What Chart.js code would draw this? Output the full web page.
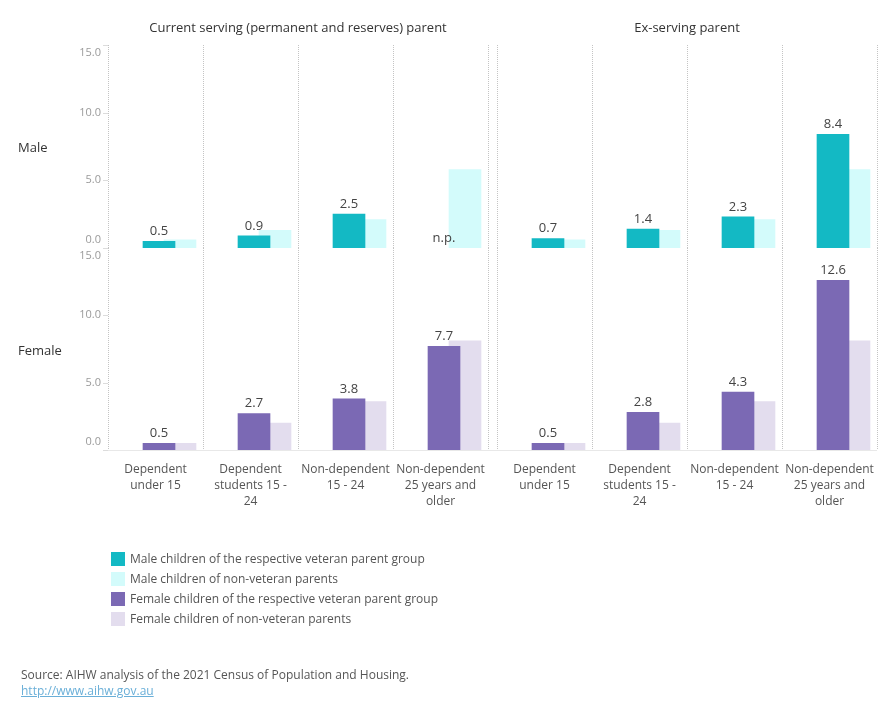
<!DOCTYPE html>
<html><head><meta charset="utf-8">
<script src="https://cdn.jsdelivr.net/npm/chart.js@4.4.1/dist/chart.umd.min.js"></script>
<style>
html,body{margin:0;padding:0;background:#fff;}
body{width:890px;height:720px;position:relative;overflow:hidden;font-family:"Open Sans",sans-serif;}
canvas{position:absolute;left:0;top:0;}
.t{position:absolute;white-space:nowrap;line-height:16px;}
.sw{position:absolute;width:14px;height:14px;}
</style></head><body>
<canvas id="c0" width="890" height="720"></canvas>
<canvas id="c1" width="890" height="720"></canvas>
<canvas id="c2" width="890" height="720"></canvas>
<canvas id="c3" width="890" height="720"></canvas>
<div id="txt"></div>
<script>
// ---------- data ----------
const categories = [["Dependent","under 15"],["Dependent","students 15 -","24"],["Non-dependent","15 - 24"],["Non-dependent","25 years and","older"]];
const parentGroups = ["Current serving (permanent and reserves) parent","Ex-serving parent"];
const sexes = ["Male","Female"];
const maleCurrentVeteran   = [0.5, 0.9, 2.5, null];   // null = n.p.
const maleExVeteran        = [0.7, 1.4, 2.3, 8.4];
const maleNonVeteran       = [0.6, 1.3, 2.1, 5.8];
const femaleCurrentVeteran = [0.5, 2.7, 3.8, 7.7];
const femaleExVeteran      = [0.5, 2.8, 4.3, 12.6];
const femaleNonVeteran     = [0.5, 2.0, 3.6, 8.1];
const yTicks = [0, 5, 10, 15];
const seriesNames = ["Male children of the respective veteran parent group","Male children of non-veteran parents","Female children of the respective veteran parent group","Female children of non-veteran parents"];
const sourceText = "Source: AIHW analysis of the 2021 Census of Population and Housing.";
const sourceLink = "http://www.aihw.gov.au";

// ---------- styling / layout ----------
const colors = ["#13B9C4","#D3FBFB","#7B69B4","#E3DDEE"];
const DARK_POS = 51/95, LIGHT_POS = 72/95;
const FONT = '"Open Sans", sans-serif';
const cols = [{l:108,r:488},{l:497,r:877}];
const rows = [{t:45,b:248},{t:248,b:450}];
const vetData = [[maleCurrentVeteran, maleExVeteran],[femaleCurrentVeteran, femaleExVeteran]];
const nonData = [maleNonVeteran, femaleNonVeteran];

function makePlugin(sex, grp){
  return {
    id:'panel'+sex+grp,
    beforeDatasetsDraw(chart){
      const {ctx, chartArea:a} = chart; const xs = chart.scales.x;
      ctx.save();
      if (sex===1){
        ctx.strokeStyle='#e8e8e8'; ctx.lineWidth=1;
        ctx.beginPath(); ctx.moveTo(a.left-(grp===0?5:9), a.bottom+0.5); ctx.lineTo(a.right, a.bottom+0.5); ctx.stroke();
      }
      ctx.strokeStyle='#c4c4c4'; ctx.lineWidth=1; ctx.setLineDash([1,1]);
      for (let i=0;i<=categories.length;i++){
        const px = Math.round(xs.getPixelForValue(i))+0.5;
        ctx.beginPath(); ctx.moveTo(px, a.top); ctx.lineTo(px, a.bottom); ctx.stroke();
      }
      ctx.restore();
    },
    afterDatasetsDraw(chart){
      const {ctx, chartArea:a} = chart; const xs = chart.scales.x, ys = chart.scales.y;
      ctx.save();
      const meta = chart.getDatasetMeta(0);
      const vals = chart.data.datasets[0].data;
      ctx.font = '13px '+FONT; ctx.fillStyle='#444'; ctx.textAlign='center'; ctx.textBaseline='middle';
      meta.data.forEach((bar,i)=>{
        const v = vals[i].y;
        const y = v==null ? ys.getPixelForValue(0) : bar.y;
        ctx.fillText(v==null ? 'n.p.' : v.toFixed(1), bar.x, y-10);
      });
      if (grp===0){
        ctx.font='11px '+FONT; ctx.fillStyle='#9a9a9a'; ctx.textAlign='right';
        ctx.strokeStyle='#dcdcdc';
        yTicks.forEach(v=>{
          const py = ys.getPixelForValue(v);
          ctx.beginPath(); ctx.moveTo(a.left-5, Math.round(py)+0.5); ctx.lineTo(a.left, Math.round(py)+0.5); ctx.stroke();
          const ly = Math.min(Math.max(py, a.top+8), a.bottom-8);
          ctx.fillText(v.toFixed(1), a.left-7, ly);
        });
      }
      if (sex===1){
        ctx.font='12px '+FONT; ctx.fillStyle='#555'; ctx.textAlign='center';
        categories.forEach((lines,i)=>{
          const cx = xs.getPixelForValue(i+0.5);
          lines.forEach((s,k)=>ctx.fillText(s, cx, a.bottom+20+k*16));
        });
      }
      ctx.restore();
    }
  };
}

let ci = 0;
for (let sex=0; sex<2; sex++){
  for (let grp=0; grp<2; grp++){
    const c = cols[grp], r = rows[sex];
    new Chart(document.getElementById('c'+(ci++)), {
      type:'bar',
      data:{datasets:[
        {label:seriesNames[sex*2], data:vetData[sex][grp].map((v,i)=>({x:i+DARK_POS,y:v})),
         backgroundColor:colors[sex*2], grouped:false, barThickness:32, borderWidth:0},
        {label:seriesNames[sex*2+1], data:nonData[sex].map((v,i)=>({x:i+LIGHT_POS,y:v})),
         backgroundColor:colors[sex*2+1], grouped:false, barThickness:32, borderWidth:0}
      ]},
      options:{
        responsive:false, animation:false, devicePixelRatio:1,
        layout:{padding:{left:c.l, right:890-c.r, top:r.t, bottom:720-r.b}},
        plugins:{legend:{display:false}, tooltip:{enabled:false}},
        scales:{
          x:{type:'linear', min:0, max:categories.length, offset:false, display:false},
          y:{type:'linear', min:0, max:15, display:false}
        }
      },
      plugins:[makePlugin(sex,grp)]
    });
  }
}

// ---------- HTML text ----------
const txt = document.getElementById('txt');
function addText(s, left, cy, size, color, extra){
  const d = document.createElement('div'); d.className='t'; d.textContent=s;
  d.style.left=left+'px'; d.style.top=(cy-8)+'px'; d.style.fontSize=size+'px'; d.style.color=color;
  if (extra) Object.assign(d.style, extra);
  txt.appendChild(d); return d;
}
parentGroups.forEach((g,i)=>{
  const d = addText(g, 0, 27, 13, '#333');
  const cx = (cols[i].l+cols[i].r)/2;
  d.style.left = cx+'px'; d.style.transform='translateX(-50%)';
});
addText(sexes[0], 18, 147, 13, '#333');
addText(sexes[1], 18, 350, 13, '#333');
seriesNames.forEach((s,k)=>{
  const sw = document.createElement('div'); sw.className='sw';
  sw.style.left='111px'; sw.style.top=(552+20*k)+'px'; sw.style.background=colors[k];
  txt.appendChild(sw);
  addText(s, 130, 559+20*k, 12, '#555');
});
addText(sourceText, 21, 675, 12, '#555');
addText(sourceLink, 21, 691, 12, '#6AAFD8', {textDecoration:'underline'});
</script>
</body></html>
